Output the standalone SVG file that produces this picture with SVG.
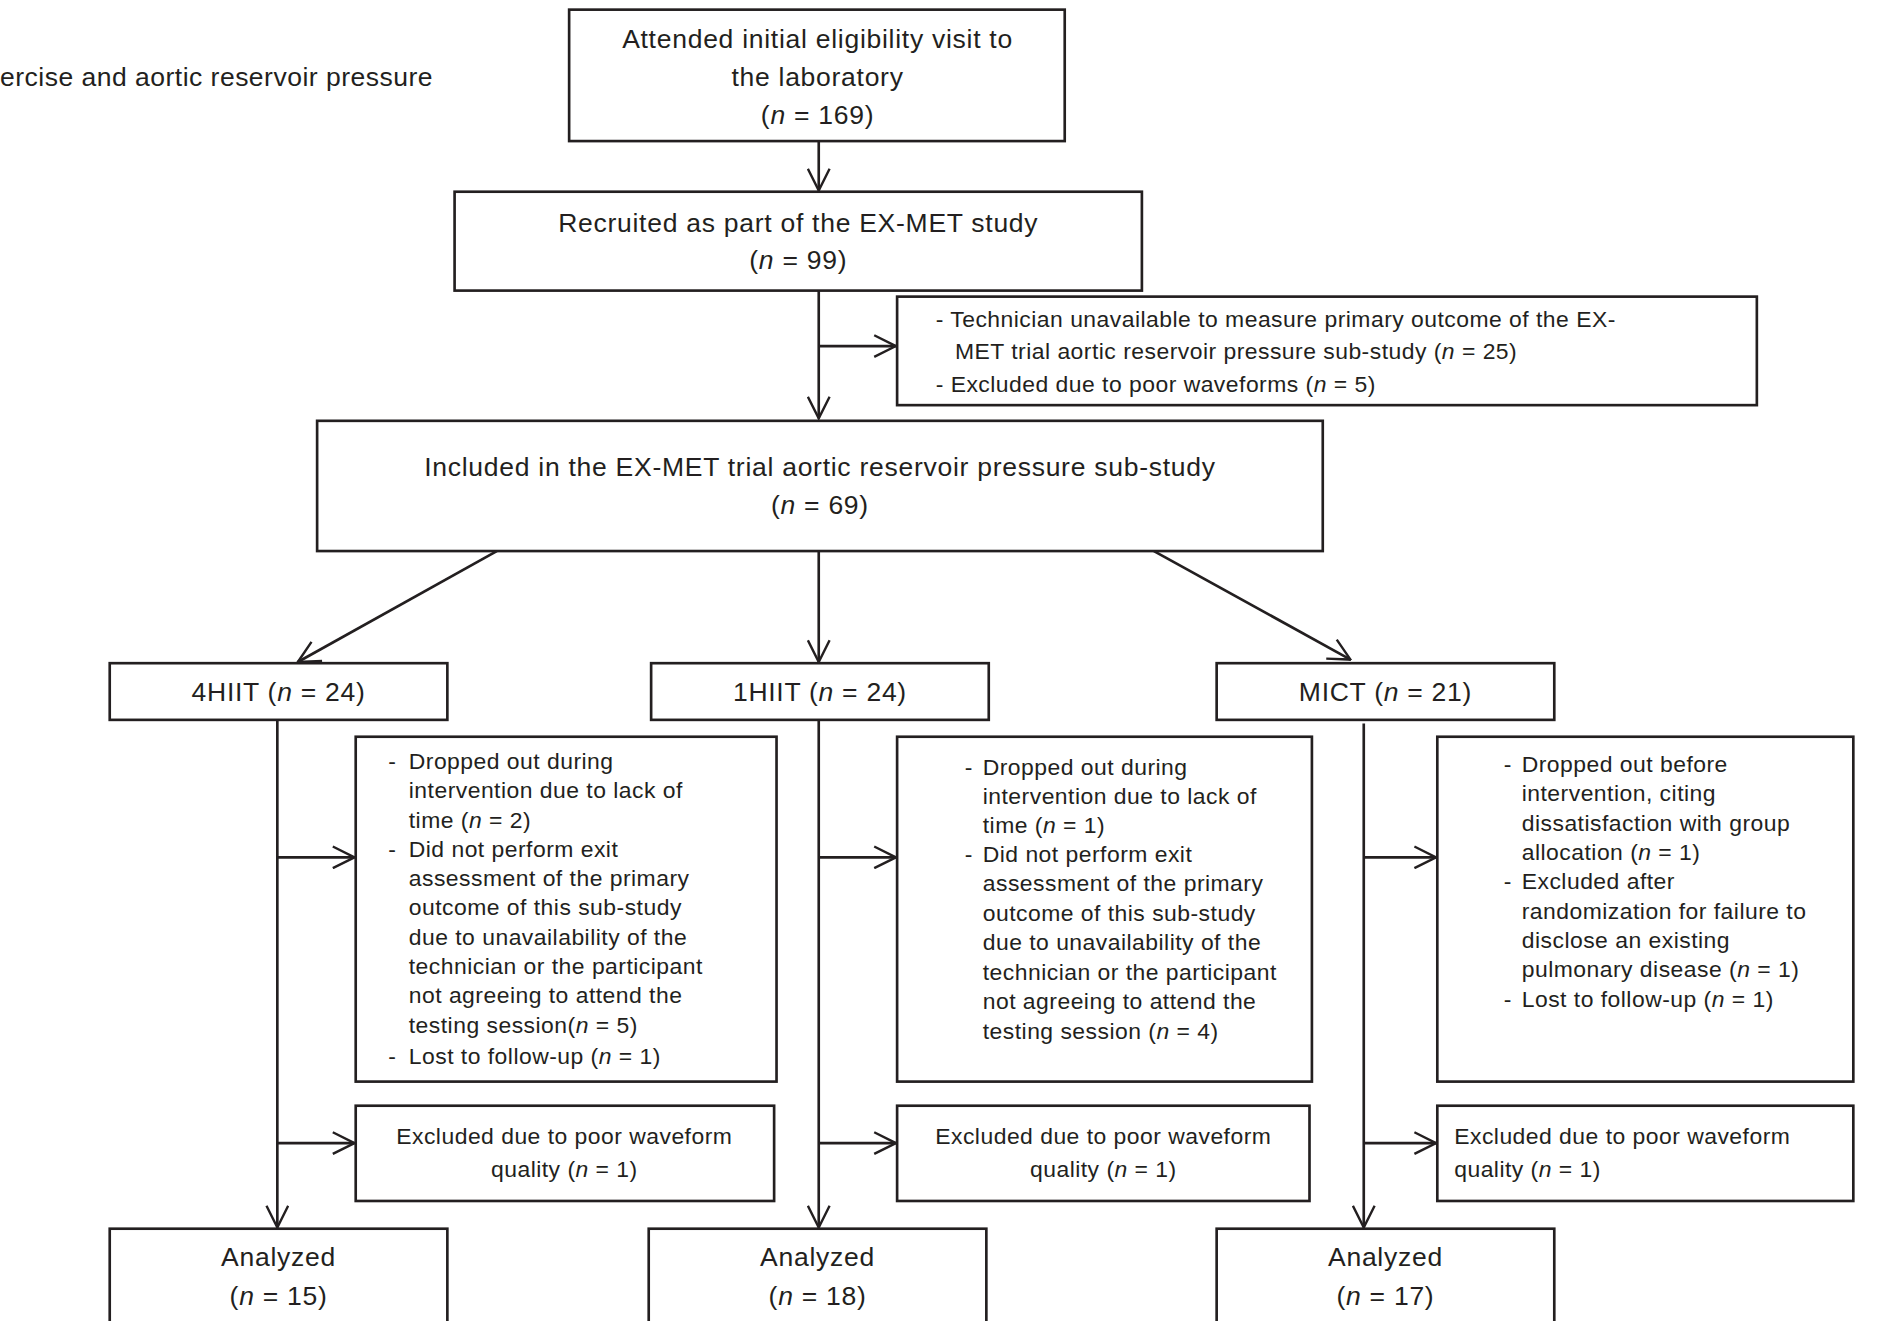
<svg xmlns="http://www.w3.org/2000/svg" width="1881" height="1321" viewBox="0 0 1881 1321">
<defs>
<marker id="ah" viewBox="0 0 20 20" refX="19" refY="10" markerWidth="20" markerHeight="20" markerUnits="userSpaceOnUse" orient="auto">
<path d="M1,1 L19,10 L1,19" fill="none" stroke="#231f20" stroke-width="2"/>
</marker>
<style>
rect{fill:#fff;stroke:#231f20;stroke-width:2.2}
text{font-family:"Liberation Sans",Arial,sans-serif;fill:#231f20}
.m{font-size:22px;text-anchor:middle;letter-spacing:0.6px}
.s{font-size:19px;letter-spacing:0.4px}
.c line{stroke:#231f20;stroke-width:2.2;fill:none}
</style>
</defs>
<rect x="0" y="0" width="1881" height="1321" style="fill:#fff;stroke:none"/>
<g transform="scale(1.2058)">
<text x="0" y="71" class="s" style="font-size:22px">ercise and aortic reservoir pressure</text>
<g id="n1"><rect x="472" y="8" width="411" height="109"/>
<text class="m" x="678" y="40">Attended initial eligibility visit to</text>
<text class="m" x="678" y="71">the laboratory</text>
<text class="m" x="678" y="103">(<tspan font-style="italic">n</tspan> = 169)</text></g>
<g id="n2"><rect x="377" y="159" width="570" height="82"/>
<text class="m" x="662" y="192">Recruited as part of the EX-MET study</text>
<text class="m" x="662" y="223">(<tspan font-style="italic">n</tspan> = 99)</text></g>
<g id="n3"><rect x="744" y="246" width="713" height="90"/>
<text class="s" x="776" y="271">- Technician unavailable to measure primary outcome of the EX-</text>
<text class="s" x="792" y="298">MET trial aortic reservoir pressure sub-study (<tspan font-style="italic">n</tspan> = 25)</text>
<text class="s" x="776" y="325">- Excluded due to poor waveforms (<tspan font-style="italic">n</tspan> = 5)</text></g>
<g id="n4"><rect x="263" y="349" width="834" height="108"/>
<text class="m" x="680" y="395">Included in the EX-MET trial aortic reservoir pressure sub-study</text>
<text class="m" x="680" y="426">(<tspan font-style="italic">n</tspan> = 69)</text></g>
<g id="g1"><rect x="91" y="550" width="280" height="47"/>
<text class="m" x="231" y="581">4HIIT (<tspan font-style="italic">n</tspan> = 24)</text></g>
<g id="g2"><rect x="540" y="550" width="280" height="47"/>
<text class="m" x="680" y="581">1HIIT (<tspan font-style="italic">n</tspan> = 24)</text></g>
<g id="g3"><rect x="1009" y="550" width="280" height="47"/>
<text class="m" x="1149" y="581">MICT (<tspan font-style="italic">n</tspan> = 21)</text></g>
<g id="e1"><rect x="295" y="611" width="349" height="286"/>
<text class="s" x="322" y="638">-</text><text class="s" x="339" y="638">Dropped out during</text>
<text class="s" x="339" y="662">intervention due to lack of</text>
<text class="s" x="339" y="687">time (<tspan font-style="italic">n</tspan> = 2)</text>
<text class="s" x="322" y="711">-</text><text class="s" x="339" y="711">Did not perform exit</text>
<text class="s" x="339" y="735">assessment of the primary</text>
<text class="s" x="339" y="759">outcome of this sub-study</text>
<text class="s" x="339" y="784">due to unavailability of the</text>
<text class="s" x="339" y="808">technician or the participant</text>
<text class="s" x="339" y="832">not agreeing to attend the</text>
<text class="s" x="339" y="857">testing session(<tspan font-style="italic">n</tspan> = 5)</text>
<text class="s" x="322" y="882">-</text><text class="s" x="339" y="882">Lost to follow-up (<tspan font-style="italic">n</tspan> = 1)</text></g>
<g id="e2"><rect x="744" y="611" width="344" height="286"/>
<text class="s" x="800" y="643">-</text><text class="s" x="815" y="643">Dropped out during</text>
<text class="s" x="815" y="667">intervention due to lack of</text>
<text class="s" x="815" y="691">time (<tspan font-style="italic">n</tspan> = 1)</text>
<text class="s" x="800" y="715">-</text><text class="s" x="815" y="715">Did not perform exit</text>
<text class="s" x="815" y="739">assessment of the primary</text>
<text class="s" x="815" y="764">outcome of this sub-study</text>
<text class="s" x="815" y="788">due to unavailability of the</text>
<text class="s" x="815" y="813">technician or the participant</text>
<text class="s" x="815" y="837">not agreeing to attend the</text>
<text class="s" x="815" y="862">testing session (<tspan font-style="italic">n</tspan> = 4)</text></g>
<g id="e3"><rect x="1192" y="611" width="345" height="286"/>
<text class="s" x="1247" y="640">-</text><text class="s" x="1262" y="640">Dropped out before</text>
<text class="s" x="1262" y="664">intervention, citing</text>
<text class="s" x="1262" y="689">dissatisfaction with group</text>
<text class="s" x="1262" y="713">allocation (<tspan font-style="italic">n</tspan> = 1)</text>
<text class="s" x="1247" y="737">-</text><text class="s" x="1262" y="737">Excluded after</text>
<text class="s" x="1262" y="762">randomization for failure to</text>
<text class="s" x="1262" y="786">disclose an existing</text>
<text class="s" x="1262" y="810">pulmonary disease (<tspan font-style="italic">n</tspan> = 1)</text>
<text class="s" x="1247" y="835">-</text><text class="s" x="1262" y="835">Lost to follow-up (<tspan font-style="italic">n</tspan> = 1)</text></g>
<g id="w1"><rect x="295" y="917" width="347" height="79"/>
<text class="s" x="468" y="949" text-anchor="middle">Excluded due to poor waveform</text>
<text class="s" x="468" y="976" text-anchor="middle">quality (<tspan font-style="italic">n</tspan> = 1)</text></g>
<g id="w2"><rect x="744" y="917" width="342" height="79"/>
<text class="s" x="915" y="949" text-anchor="middle">Excluded due to poor waveform</text>
<text class="s" x="915" y="976" text-anchor="middle">quality (<tspan font-style="italic">n</tspan> = 1)</text></g>
<g id="w3"><rect x="1192" y="917" width="345" height="79"/>
<text class="s" x="1206" y="949">Excluded due to poor waveform</text>
<text class="s" x="1206" y="976">quality (<tspan font-style="italic">n</tspan> = 1)</text></g>
<g id="a1"><rect x="91" y="1019" width="280" height="80"/>
<text class="m" x="231" y="1050">Analyzed</text>
<text class="m" x="231" y="1082">(<tspan font-style="italic">n</tspan> = 15)</text></g>
<g id="a2"><rect x="538" y="1019" width="280" height="80"/>
<text class="m" x="678" y="1050">Analyzed</text>
<text class="m" x="678" y="1082">(<tspan font-style="italic">n</tspan> = 18)</text></g>
<g id="a3"><rect x="1009" y="1019" width="280" height="80"/>
<text class="m" x="1149" y="1050">Analyzed</text>
<text class="m" x="1149" y="1082">(<tspan font-style="italic">n</tspan> = 17)</text></g>
<g class="c" id="connectors">
<line x1="679" y1="117" x2="679" y2="158" marker-end="url(#ah)"/>
<line x1="679" y1="241" x2="679" y2="347" marker-end="url(#ah)"/>
<line x1="679" y1="287" x2="743" y2="287" marker-end="url(#ah)"/>
<line x1="412" y1="457" x2="247" y2="549" marker-end="url(#ah)"/>
<line x1="679" y1="457" x2="679" y2="549" marker-end="url(#ah)"/>
<line x1="957" y1="457" x2="1120" y2="547" marker-end="url(#ah)"/>
<line x1="230" y1="597" x2="230" y2="1018" marker-end="url(#ah)"/>
<line x1="679" y1="597" x2="679" y2="1018" marker-end="url(#ah)"/>
<line x1="1131" y1="600" x2="1131" y2="1018" marker-end="url(#ah)"/>
<line x1="230" y1="711" x2="294" y2="711" marker-end="url(#ah)"/>
<line x1="679" y1="711" x2="743" y2="711" marker-end="url(#ah)"/>
<line x1="1131" y1="711" x2="1191" y2="711" marker-end="url(#ah)"/>
<line x1="230" y1="948" x2="294" y2="948" marker-end="url(#ah)"/>
<line x1="679" y1="948" x2="743" y2="948" marker-end="url(#ah)"/>
<line x1="1131" y1="948" x2="1191" y2="948" marker-end="url(#ah)"/>
</g>
</g>
</svg>
